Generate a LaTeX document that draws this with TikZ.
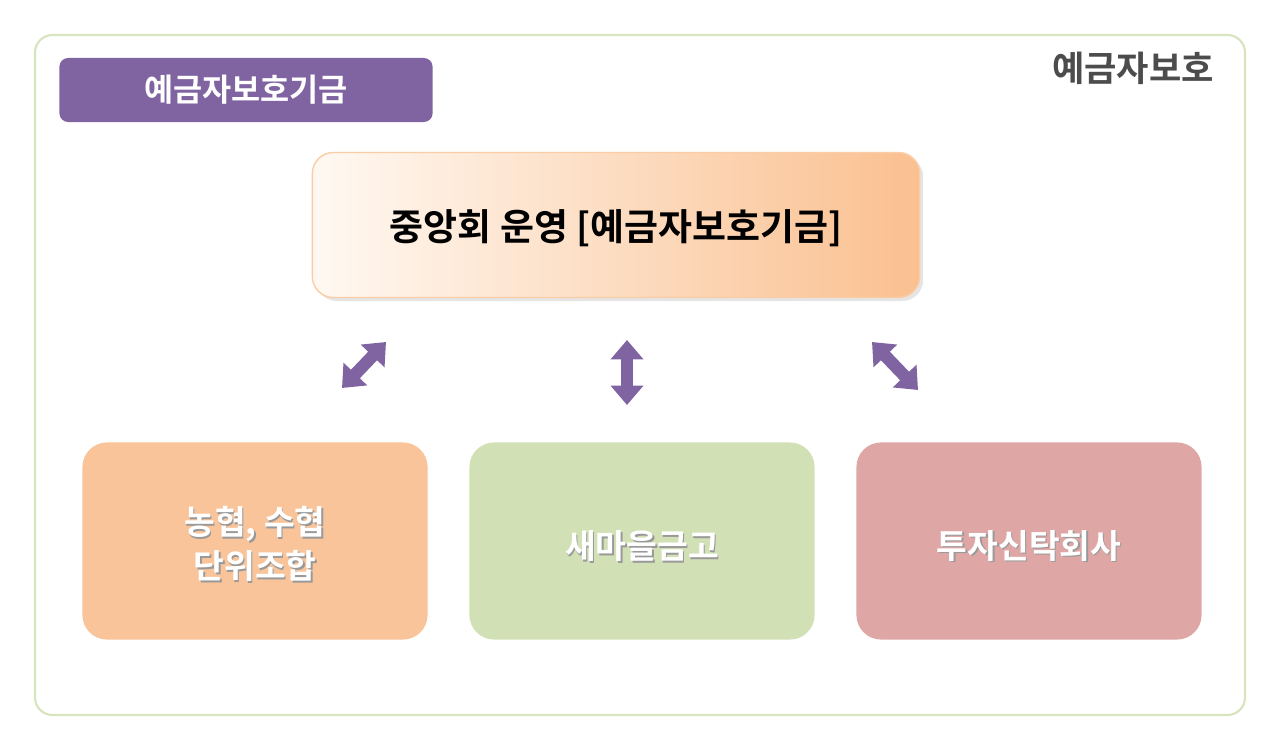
\documentclass[tikz,border=0pt]{standalone}
\usepackage{fontspec}
\newfontfamily\kr{Noto Sans CJK KR}[BoldFont={Noto Sans CJK KR Bold}]
\usetikzlibrary{arrows.meta,shadows}
\definecolor{purp}{HTML}{8064A2}
\definecolor{frame}{HTML}{D7E4BD}
\definecolor{orangebox}{HTML}{F9C499}
\definecolor{greenbox}{HTML}{D2E1B5}
\definecolor{pinkbox}{HTML}{DFA6A6}
\definecolor{peach}{HTML}{FAC090}
\tikzset{
  unitbox/.style={rounded corners=7pt, draw=none, minimum width=3.45cm, minimum height=1.97cm, inner sep=0pt},
  boxtext/.style={font=\kr\bfseries\fontsize{9.5}{12.5}\selectfont, text=white, align=center},
  boxshadow/.style={font=\kr\bfseries\fontsize{9.5}{12.5}\selectfont, text=black!40, align=center},
  linkarrow/.style={purp, line width=3.5pt, {Triangle[width=9pt,length=5.5pt]}-{Triangle[width=9pt,length=5.5pt]}}
}
\begin{document}
\begin{tikzpicture}[x=0.01cm, y=-0.01cm]
    \useasboundingbox[fill=white] (0,0) rectangle (1280,749);
    \draw[frame, line width=0.6pt, rounded corners=5pt] (35,35) rectangle (1245,715);

    % title tab
    \node[fill=purp, rounded corners=2.5pt, minimum width=3.73cm, minimum height=0.64cm, font=\kr\bfseries\fontsize{9}{11}\selectfont, text=white] (tab) at (246,90) {예금자보호기금};
    \node[font=\kr\bfseries\fontsize{10}{12}\selectfont, text=black!70] (corner) at (1133,68) {예금자보호};

    % central box
    \node[rounded corners=6pt, draw=peach!80, left color=orange!5, right color=peach, minimum width=6.07cm, minimum height=1.45cm, drop shadow={opacity=0.2, shadow xshift=1pt, shadow yshift=-1pt}] (center) at (616,225) {};
    \node[font=\kr\bfseries\fontsize{10.5}{13}\selectfont] (centertext) at (616,228) {중앙회 운영 [예금자보호기금]};

    % links
    \coordinate (la) at (342,388); \coordinate (lb) at (386,342);
    \coordinate (ma) at (627,340); \coordinate (mb) at (627,405);
    \coordinate (ra) at (872,342); \coordinate (rb) at (918,390);
    \draw[linkarrow] (la) -- (lb);
    \draw[linkarrow] (ma) -- (mb);
    \draw[linkarrow] (ra) -- (rb);

    % member boxes
    \node[unitbox, fill=orangebox] (farm) at (255,541) {};
    \node[unitbox, fill=greenbox] (village) at (642,541) {};
    \node[unitbox, fill=pinkbox] (trust) at (1029,541) {};
    \node[boxshadow] at (256.5,545.5) {농협, 수협\\단위조합};
    \node[boxtext] (farmtext) at (255,544) {농협, 수협\\단위조합};
    \node[boxshadow] at (643.5,547.5) {새마을금고};
    \node[boxtext] (villagetext) at (642,546) {새마을금고};
    \node[boxshadow] at (1030.5,547.5) {투자신탁회사};
    \node[boxtext] (trusttext) at (1029,546) {투자신탁회사};
\end{tikzpicture}
\end{document}
